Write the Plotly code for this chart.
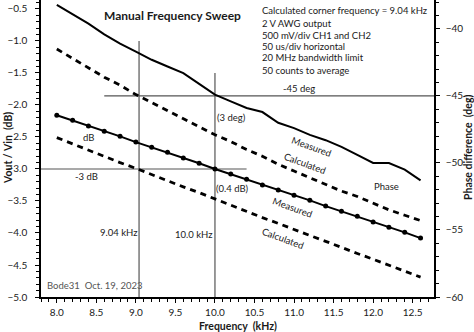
import plotly.graph_objects as go

# ---------------- data ----------------
freq_khz = [8.0, 8.2, 8.4, 8.6, 8.8, 9.0, 9.2, 9.4, 9.6, 9.8, 10.0, 10.2,
            10.4, 10.6, 10.8, 11.0, 11.2, 11.4, 11.6, 11.8, 12.0, 12.2, 12.4, 12.6]

db_measured = [-2.16, -2.24, -2.33, -2.41, -2.49, -2.58, -2.66, -2.74, -2.83, -2.91,
               -3.00, -3.08, -3.16, -3.25, -3.33, -3.41, -3.49, -3.58, -3.66, -3.74,
               -3.83, -3.91, -3.99, -4.08]

db_calculated = [-2.51, -2.61, -2.70, -2.80, -2.90, -2.99, -3.09, -3.18, -3.28, -3.37,
                 -3.47, -3.57, -3.66, -3.76, -3.85, -3.95, -4.04, -4.13, -4.23, -4.32,
                 -4.41, -4.50, -4.60, -4.69]

phase_measured = [-38.2, -38.9, -39.6, -40.4, -41.1, -41.7, -42.3, -42.8, -43.3, -44.1,
                  -44.9, -45.4, -45.9, -46.2, -47.0, -47.4, -47.9, -48.3, -48.8, -49.4,
                  -50.0, -50.0, -50.5, -51.3]

phase_calculated = [-41.5, -42.2, -42.9, -43.6, -44.2, -44.9, -45.5, -46.1, -46.7, -47.3,
                    -47.9, -48.4, -49.0, -49.5, -50.1, -50.6, -51.1, -51.6, -52.1, -52.5,
                    -53.0, -53.5, -53.9, -54.3]

corner_khz = 9.04
ref_khz = 10.0
minus3_db = -3.0
minus45_deg = -45.0

info_lines = ["Calculated corner frequency = 9.04 kHz",
              "2 V AWG output",
              "500 mV/div CH1 and CH2",
              "50 us/div horizontal",
              "20 MHz bandwidth limit",
              "50 counts to average"]

# ---------------- layout geometry ----------------
W, H = 474, 332
L, R, T, B = 41, 434, 0, 297
FONT = "Lato"
TXT = "#1a1a1a"


def px(x):
    return (x - L) / (R - L)


def py(y):
    return 1 - (y - T) / (B - T)


fig = go.Figure()

fig.add_trace(go.Scatter(x=freq_khz, y=phase_measured, yaxis="y2", mode="lines",
                         line=dict(color="black", width=2), showlegend=False))
fig.add_trace(go.Scatter(x=freq_khz, y=phase_calculated, yaxis="y2", mode="lines",
                         line=dict(color="black", width=2.8, dash="6px,5px"), showlegend=False))
fig.add_trace(go.Scatter(x=freq_khz, y=db_measured, mode="lines+markers",
                         line=dict(color="black", width=2),
                         marker=dict(color="black", size=5), showlegend=False))
fig.add_trace(go.Scatter(x=freq_khz, y=db_calculated, mode="lines",
                         line=dict(color="black", width=2.8, dash="6px,5px"), showlegend=False))

gray = dict(color="#555555", width=1.2)
shapes = [
    dict(type="line", xref="x", yref="y", x0=corner_khz, x1=corner_khz, y0=-5.0, y1=-1.0, line=gray, layer="below"),
    dict(type="line", xref="x", yref="y", x0=ref_khz, x1=ref_khz, y0=-5.0, y1=-1.5, line=gray, layer="below"),
    dict(type="line", xref="x", yref="y", x0=7.8, x1=10.4, y0=minus3_db, y1=minus3_db, line=gray, layer="below"),
    dict(type="line", xref="x", yref="y2", x0=8.6, x1=12.77, y0=minus45_deg, y1=minus45_deg, line=gray, layer="below"),
]

ann = []


def add(text, x, y, size=9, bold=False, angle=0, xanchor="center", color=TXT):
    ann.append(dict(text=f"<b>{text}</b>" if bold else text, x=px(x), y=py(y),
                    xref="paper", yref="paper", showarrow=False, textangle=angle,
                    xanchor=xanchor, yanchor="middle",
                    font=dict(family=FONT, size=size, color=color)))


add("Manual Frequency Sweep", 172.5, 16, size=12, bold=True)
for i, (line, yy) in enumerate(zip(info_lines, [11, 23.3, 35, 46.7, 57.7, 70])):
    add(line, 260, yy, size=9.5, xanchor="left")
add("-45 deg", 299, 88.7, size=9.5)
add("(3 deg)", 231, 117.3, size=9.5)
add("(0.4 dB)", 232, 188.3, size=9.5)
add("dB", 88, 137, size=9.5)
add("-3 dB", 86, 176, size=9.5)
add("9.04 kHz", 118.5, 232.7, size=9.5)
add("10.0 kHz", 193.5, 234.7, size=9.5)
add("Bode31  Oct. 19, 2023", 45, 285.7, size=9.5, xanchor="left", color="#555555")
add("Measured", 311, 146, size=9.5, angle=20)
add("Calculated", 305, 163.5, size=9.5, angle=20)
add("Phase", 386.7, 186, size=9.5)
add("Measured", 292.5, 207, size=9.5, angle=20)
add("Calculated", 283, 238.5, size=9.5, angle=20)
add("Vout / Vin  (dB)", 8, 148, size=10.5, bold=True, angle=-90)
add("Phase difference  (deg)", 468, 148, size=10.5, bold=True, angle=-90)
add("Frequency  (kHz)", 237.5, 326, size=10.5, bold=True)

axis_common = dict(showgrid=False, zeroline=False, showline=True, linecolor="black",
                   linewidth=1.5, ticks="outside", ticklen=4, tickwidth=1.2,
                   tickcolor="black", tickfont=dict(family=FONT, size=10, color=TXT))

fig.update_layout(
    width=W, height=H,
    margin=dict(l=L, r=W - R, t=T, b=H - B),
    paper_bgcolor="white", plot_bgcolor="white",
    shapes=shapes, annotations=ann,
    xaxis=dict(range=[7.8, 12.77], tick0=8.0, dtick=0.5, tickformat=".1f",
               minor=dict(dtick=0.1, tick0=8.0, ticks="outside", ticklen=3, tickcolor="black"),
               ticklabelstandoff=1, **axis_common),
    yaxis=dict(range=[-5.0, -0.36], tick0=-5.0, dtick=0.5, tickformat=".1f",
               minor=dict(dtick=0.1, tick0=-5.0, ticks="outside", ticklen=3, tickcolor="black"),
               ticklabelstandoff=6, **axis_common),
    yaxis2=dict(range=[-60, -37.84], tick0=-60, dtick=5, overlaying="y", side="right",
                minor=dict(dtick=1, tick0=-60, ticks="outside", ticklen=3, tickcolor="black"),
                ticklabelstandoff=4, **axis_common),
)

fig.write_html("out.html")
